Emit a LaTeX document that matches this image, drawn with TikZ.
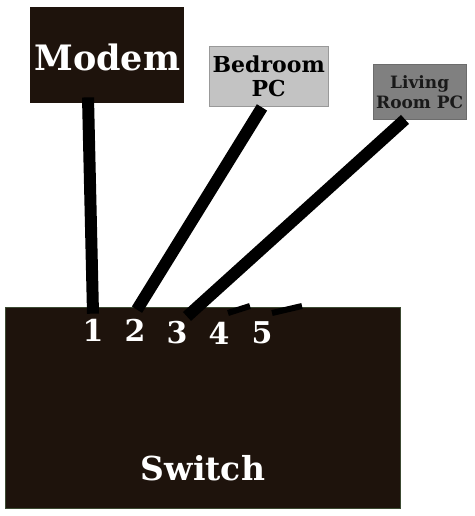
\documentclass[tikz,border=0pt]{standalone}
\usepackage{fontspec}
\setmainfont{DejaVu Serif}
\usepackage{xcolor}
\usetikzlibrary{calc}

\definecolor{boxdark}{HTML}{1E130C}
\definecolor{pclight}{HTML}{C3C3C3}
\definecolor{pcmid}{HTML}{808080}
\definecolor{switchedge}{HTML}{3C4A32}

\tikzset{
	box/.style = {rectangle, inner sep = 0pt, anchor = north west},
	cable/.style = {line width = 12pt, black},
	port/.style = {text = white, font = \bfseries\fontsize{30}{30}\selectfont, inner sep = 1pt}
}

\begin{document}
\begin{tikzpicture}[x = 1pt, y = -1pt]
			\useasboundingbox (0,0) rectangle (474,516);
			
			% the boxes
			\node [box, fill = boxdark, minimum width = 154pt, minimum height = 96pt] (modem) at (30,7) {};
			\node [text = white, font = \bfseries\fontsize{35}{35}\selectfont] at ($(modem.center)+(0,2)$) {Modem};
			
			\node [box, fill = pclight, draw = gray!80, minimum width = 119pt, minimum height = 60pt] (bedroom) at (209,46) {};
			\node [align = center, font = \bfseries\fontsize{22}{24}\selectfont] at (bedroom.center) {Bedroom\\PC};
			
			\node [box, fill = pcmid, draw = gray!85!black, minimum width = 93pt, minimum height = 55pt] (living) at (373,64) {};
			\node [align = center, text = black!90, font = \bfseries\fontsize{17}{20}\selectfont] at (living.center) {Living\\Room PC};
			
			\node [box, fill = boxdark, draw = switchedge, minimum width = 395pt, minimum height = 201pt] (switch) at (5,307) {};
			\node [text = white, font = \bfseries\fontsize{33}{33}\selectfont] (label) at (203,468) {Switch};
			
			% the ports
			\foreach \i/\x/\y in {1/93/330, 2/135/330, 3/177/333, 4/219/333, 5/262/333}
				\node [port] (p\i) at (\x,\y) {\i};
			
			% the cables
			\draw [cable] ($(modem.south west)+(58,-6)$) -- ($(p1.north)+(0,-4)$);
			\draw [cable] ($(bedroom.south west)+(53,1)$) -- ($(p2.north)+(2,-8)$);
			\draw [cable] ($(living.south west)+(32,0)$) -- ($(p3.north)+(10,-4)$);
			\draw [line width = 6pt, black] ($(switch.north west)+(223,6)$) -- ++(22,-7);
			\draw [line width = 6pt, black] ($(switch.north west)+(267,6)$) -- ++(30,-7);
			
		\end{tikzpicture}
\end{document}
